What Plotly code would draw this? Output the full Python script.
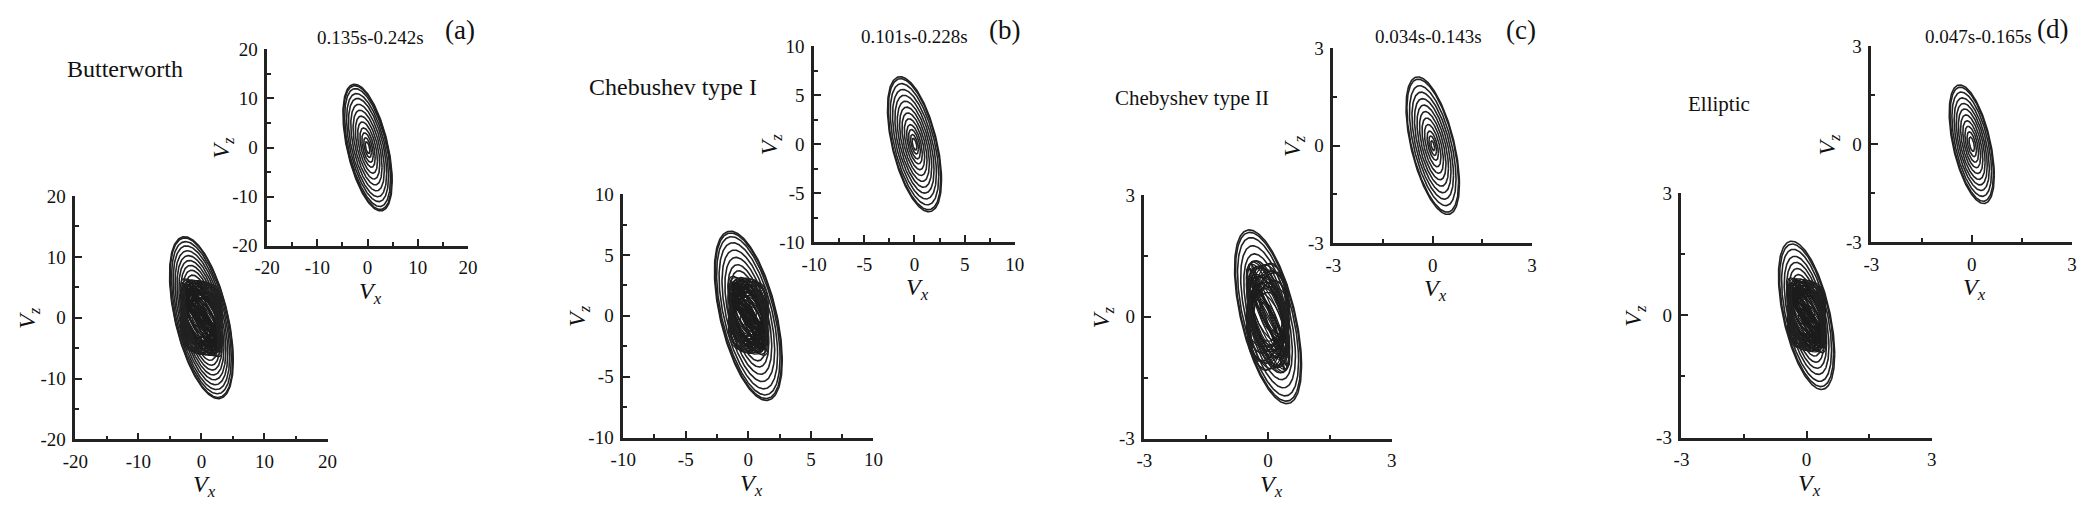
import numpy as np
import plotly.graph_objects as go

# ---------------- data ----------------
PANEL_LETTERS = ["(a)", "(b)", "(c)", "(d)"]
FILTER_NAMES = ["Butterworth", "Chebushev type I", "Chebyshev type II", "Elliptic"]
TIME_WINDOWS = ["0.135s-0.242s", "0.101s-0.228s", "0.034s-0.143s", "0.047s-0.165s"]

# axis ranges / ticks
TICKS_20 = [-20, -10, 0, 10, 20]
TICKTEXT_20 = ["-20", "-10", "0", "10", "20"]
MINOR_20 = [-15, -5, 5, 15]
TICKS_10 = [-10, -5, 0, 5, 10]
TICKTEXT_10 = ["-10", "-5", "0", "5", "10"]
MINOR_10 = [-7.5, -2.5, 2.5, 7.5]
TICKS_3 = [-3, 0, 3]
TICKTEXT_3 = ["-3", "0", "3"]
MINOR_3 = [-1.5, 1.5]

# orbit shape (Vx peak / Vz peak ratio and phase lag, degrees)
RING_RATIO = [0.38, 0.39, 0.38, 0.37]
RING_PHASE = [58, 58, 56, 58]

# main plots: outer orbit Vz peaks
A_MAIN_RINGS = [13.3, 13.1, 12.5, 11.8, 11.0, 10.2, 9.4, 8.6, 7.8, 7.0]
B_MAIN_RINGS = [6.95, 6.8, 6.5, 6.0, 5.4, 4.8, 4.2, 3.7]
C_MAIN_RINGS = [2.14, 2.08, 1.95, 1.75, 1.55, 1.38, 1.22]
D_MAIN_RINGS = [1.82, 1.75, 1.62, 1.45, 1.3, 1.15, 1.0]

# main plots: tangled inner loops (Vz peak, Vx peak, phase deg)
A_CL_Z = [6.4, 6.1, 5.8, 5.6, 5.4, 5.2, 5.0, 4.8, 4.6, 4.4, 4.2, 4.0, 6.2, 5.9, 5.5, 5.1, 4.7, 4.3, 3.9, 3.5,
          6.0, 5.7, 5.3, 4.9, 3.2, 2.8, 5.8, 5.0, 4.4, 3.6, 2.8, 2.0, 1.4, 6.0, 4.8, 3.0, 5.5, 4.1, 2.4, 1.8,
          6.3, 6.0, 5.7, 5.3, 4.9, 4.5, 4.1, 3.7, 3.3, 2.9, 6.1, 5.6, 5.2, 4.6, 4.0, 3.4, 2.6, 2.2, 1.6, 1.0]
A_CL_X = [3.3, 3.1, 3.2, 3.0, 3.3, 2.9, 3.1, 3.0, 2.8, 3.2, 2.7, 2.9, 3.4, 3.0, 3.1, 2.9, 3.2, 2.8, 2.6, 2.5,
          3.1, 2.9, 3.0, 2.8, 2.3, 2.1, 3.0, 2.6, 3.2, 2.2, 2.5, 1.6, 1.2, 2.0, 3.3, 2.8, 2.4, 3.1, 1.9, 2.6,
          3.2, 3.3, 2.9, 3.1, 3.0, 2.7, 3.2, 2.4, 2.9, 2.2, 2.8, 3.3, 2.6, 3.0, 2.5, 2.9, 2.0, 1.7, 1.4, 0.9]
A_CL_P = [35, 80, 55, 100, 45, 70, 115, 60, 90, 40, 110, 75, 65, 95, 50, 85, 30, 105, 70, 112,
          58, 88, 42, 108, 80, 60, 10, 18, 20, 5, 25, 30, 12, 5, 22, 15, 25, 8, 14, 12,
          48, 92, 68, 112, 38, 78, 102, 52, 98, 22, 72, 110, 28, 62, 28, 102, 16, 36, 100, 70]

B_CL_Z = [3.25, 3.1, 2.95, 2.8, 2.7, 2.6, 2.5, 2.4, 2.3, 2.2, 2.1, 2.0, 3.15, 3.0, 2.75, 2.55, 2.35, 2.15, 1.95, 1.75,
          3.05, 2.85, 2.65, 2.45, 1.6, 1.4, 2.9, 2.5, 2.2, 1.8, 1.4, 1.0, 0.7, 3.0, 2.4, 1.5, 2.75, 2.05, 1.2, 0.9,
          3.15, 3.0, 2.85, 2.65, 2.45, 2.25, 2.05, 1.85, 1.65, 1.45, 3.05, 2.8, 2.6, 2.3, 2.0, 1.7, 1.3, 1.1, 0.8, 0.5]
B_CL_X = [1.6, 1.5, 1.55, 1.45, 1.6, 1.4, 1.5, 1.45, 1.35, 1.55, 1.3, 1.4, 1.65, 1.45, 1.5, 1.4, 1.55, 1.35, 1.25, 1.2,
          1.5, 1.4, 1.45, 1.35, 1.1, 1.0, 1.45, 1.25, 1.55, 1.05, 1.2, 0.8, 0.6, 1.0, 1.6, 1.35, 1.15, 1.5, 0.9, 1.25,
          1.55, 1.6, 1.4, 1.5, 1.45, 1.3, 1.55, 1.15, 1.4, 1.05, 1.35, 1.6, 1.25, 1.45, 1.2, 1.4, 0.95, 0.8, 0.65, 0.45]
B_CL_P = [40, 85, 60, 105, 50, 75, 112, 65, 95, 45, 110, 80, 70, 100, 55, 90, 35, 108, 72, 104,
          62, 92, 48, 100, 78, 58, 10, 18, 20, 5, 25, 30, 12, 5, 22, 15, 25, 8, 14, 12,
          48, 92, 68, 112, 38, 78, 102, 52, 98, 22, 72, 110, 28, 62, 28, 102, 16, 36, 100, 70]

C_CL_Z = [1.35, 1.28, 1.2, 1.12, 1.05, 0.98, 0.9, 0.82, 0.75, 1.3, 1.15, 1.0, 0.85, 0.7, 1.25, 1.08, 0.95, 0.6,
          1.2, 1.0, 0.8, 0.55, 0.4, 1.3, 0.9, 0.65,
          1.38, 1.3, 1.22, 1.1, 0.98, 0.86, 0.74, 0.62, 1.32, 1.18, 1.02, 0.88, 0.5, 0.35]
C_CL_X = [0.52, 0.5, 0.48, 0.5, 0.45, 0.47, 0.42, 0.44, 0.4, 0.53, 0.49, 0.46, 0.43, 0.38, 0.51, 0.47, 0.44, 0.35,
          0.45, 0.5, 0.38, 0.3, 0.22, 0.4, 0.48, 0.33,
          0.5, 0.53, 0.46, 0.5, 0.48, 0.43, 0.5, 0.38, 0.44, 0.52, 0.4, 0.47, 0.3, 0.2]
C_CL_P = [45, 80, 60, 100, 50, 70, 110, 65, 90, 40, 95, 55, 85, 75, 62, 105, 48, 88,
          10, 18, 20, 5, 25, 8, 15, 25,
          48, 92, 68, 112, 38, 78, 102, 52, 98, 22, 72, 108, 28, 62]

D_CL_Z = [0.92, 0.88, 0.84, 0.8, 0.77, 0.74, 0.7, 0.67, 0.64, 0.6, 0.56, 0.52, 0.9, 0.85, 0.79, 0.73, 0.68, 0.62, 0.55, 0.48,
          0.86, 0.81, 0.75, 0.7, 0.82, 0.7, 0.6, 0.5, 0.4, 0.3, 0.2, 0.85, 0.65, 0.45, 0.78, 0.58,
          0.9, 0.86, 0.82, 0.76, 0.7, 0.65, 0.59, 0.53, 0.47, 0.42, 0.88, 0.8, 0.75, 0.66, 0.58, 0.49, 0.37, 0.32, 0.23, 0.15]
D_CL_X = [0.46, 0.44, 0.45, 0.43, 0.46, 0.42, 0.44, 0.43, 0.41, 0.45, 0.4, 0.42, 0.47, 0.43, 0.44, 0.42, 0.45, 0.4, 0.38, 0.36,
          0.44, 0.42, 0.43, 0.41, 0.42, 0.38, 0.45, 0.32, 0.36, 0.24, 0.17, 0.3, 0.46, 0.4, 0.35, 0.44,
          0.45, 0.46, 0.41, 0.44, 0.43, 0.39, 0.45, 0.34, 0.41, 0.31, 0.4, 0.46, 0.37, 0.43, 0.36, 0.41, 0.28, 0.24, 0.2, 0.13]
D_CL_P = [35, 80, 55, 100, 45, 70, 115, 60, 90, 40, 110, 75, 65, 95, 50, 85, 30, 105, 70, 112,
          58, 88, 42, 108, 10, 18, 20, 5, 25, 30, 12, 5, 22, 15, 25, 8,
          48, 92, 68, 112, 38, 78, 102, 52, 98, 22, 72, 110, 28, 62, 28, 102, 16, 36, 100, 70]

# insets: orbit Vz peaks of the windowed segment
A_INSET_RINGS = [12.9, 12.6, 12.0, 11.0, 10.0, 8.8, 7.6, 6.4, 5.2, 4.0, 3.0, 2.0, 1.2]
B_INSET_RINGS = [6.9, 6.7, 6.2, 5.6, 5.0, 4.4, 3.8, 3.2, 2.6, 2.0, 1.5, 1.0, 0.6]
C_INSET_RINGS = [2.12, 2.05, 1.85, 1.65, 1.45, 1.25, 1.05, 0.85, 0.65, 0.45, 0.3, 0.15]
D_INSET_RINGS = [1.82, 1.75, 1.6, 1.42, 1.25, 1.08, 0.9, 0.72, 0.55, 0.38, 0.22]

# ---------------- layout geometry (pixels) ----------------
W, H = 2093, 508
MAIN_BOX = [(63, 318, 194, 448), (617, 870, 192, 446), (1144, 1394, 193, 447), (1687, 1940, 191, 446)]
INSET_BOX = [(257, 460, 41, 246), (810, 1013, 38, 242), (1335, 1536, 40, 243), (1879, 2082, 38, 242)]
TITLE_POS = [(113, 62, 24), (667, 80, 24), (1192, 92, 21), (1725, 98, 21)]
TIME_POS = [(361, 29), (912, 28), (1431, 28), (1987, 28)]
LETTER_POS = [(452, 21), (1003, 21), (1525, 21), (2062, 20)]
VZ_SHIFT = [[-47, -45], [-44, -43], [-42, -40], [-46, -42]]

FONT = "Liberation Serif"


def ellipse(X, Z, phase_deg, n=220):
    t = np.linspace(0, 2 * np.pi, n)
    p = np.deg2rad(phase_deg)
    return list(X * np.cos(t)), list(-Z * np.cos(t - p))


def ring_set(z_list, ratio, phase):
    xs, ys = [], []
    for z in z_list:
        x, y = ellipse(ratio * z, z, phase)
        xs += x + [None]
        ys += y + [None]
    return xs, ys


def loop_set(z_list, x_list, p_list):
    xs, ys = [], []
    for z, xx, p in zip(z_list, x_list, p_list):
        x, y = ellipse(xx, z, p)
        xs += x + [None]
        ys += y + [None]
    return xs, ys


main_rings = [A_MAIN_RINGS, B_MAIN_RINGS, C_MAIN_RINGS, D_MAIN_RINGS]
clusters = [(A_CL_Z, A_CL_X, A_CL_P), (B_CL_Z, B_CL_X, B_CL_P),
            (C_CL_Z, C_CL_X, C_CL_P), (D_CL_Z, D_CL_X, D_CL_P)]
inset_rings = [A_INSET_RINGS, B_INSET_RINGS, C_INSET_RINGS, D_INSET_RINGS]
tick_sets = [(TICKS_20, TICKTEXT_20, MINOR_20), (TICKS_10, TICKTEXT_10, MINOR_10),
             (TICKS_3, TICKTEXT_3, MINOR_3), (TICKS_3, TICKTEXT_3, MINOR_3)]

fig = go.Figure()
layout = dict(
    width=W, height=H, margin=dict(l=0, r=0, t=0, b=0),
    paper_bgcolor="white", plot_bgcolor="rgba(0,0,0,0)",
    showlegend=False, annotations=[],
)


def axis(domain, ticks, anchor):
    vals, text, minor = ticks
    return dict(
        domain=domain, range=[vals[0], vals[-1]], anchor=anchor,
        tickmode="array", tickvals=vals, ticktext=text,
        showline=True, linecolor="#222", linewidth=2.5,
        ticks="inside", ticklen=7, tickwidth=2, tickcolor="#222",
        minor=dict(ticks="inside", ticklen=4, tickwidth=2, tickcolor="#222",
                   tickmode="array", tickvals=minor, showgrid=False),
        showgrid=False, zeroline=False, fixedrange=True,
        tickfont=dict(family=FONT, size=19, color="#111"),
        ticklabelstandoff=3,
    )


def note(text, x, y, size, **kw):
    d = dict(text=text, x=x, y=y, showarrow=False, xanchor="center", yanchor="middle",
             font=dict(family=FONT, size=size, color="#111"))
    d.update(kw)
    return d


idx = 0
for i in range(4):
    for k, kind in enumerate(("main", "inset")):
        idx += 1
        sfx = "" if idx == 1 else str(idx)
        x0, x1, y0, y1 = MAIN_BOX[i] if kind == "main" else INSET_BOX[i]
        xd = [x0 / W, x1 / W]
        yd = [1 - y1 / H, 1 - y0 / H]
        layout["xaxis" + sfx] = axis(xd, tick_sets[i], "y" + sfx)
        layout["yaxis" + sfx] = axis(yd, tick_sets[i], "x" + sfx)
        xr, yr = "x" + sfx, "y" + sfx

        if kind == "main":
            cz, cx, cp = clusters[i]
            xs, ys = loop_set(cz, cx, cp)
            fig.add_trace(go.Scatter(x=xs, y=ys, mode="lines", xaxis=xr, yaxis=yr,
                                     line=dict(color="#1c1c1c", width=1.25), hoverinfo="skip"))
            xs, ys = ring_set(main_rings[i], RING_RATIO[i], RING_PHASE[i])
        else:
            xs, ys = ring_set(inset_rings[i], RING_RATIO[i], RING_PHASE[i])
        fig.add_trace(go.Scatter(x=xs, y=ys, mode="lines", xaxis=xr, yaxis=yr,
                                 line=dict(color="#222", width=1.6), hoverinfo="skip"))

        # axis labels
        layout["annotations"].append(note("<i>V</i><sub><i>x</i></sub>", 0.5, 0, 24,
                                          xref=xr + " domain", yref=yr + " domain",
                                          yshift=-47, xshift=3))
        layout["annotations"].append(note("<i>V</i><sub><i>z</i></sub>", 0, 0.5, 24,
                                          xref=xr + " domain", yref=yr + " domain",
                                          xshift=VZ_SHIFT[i][k], textangle=-90))

    tx, ty, ts = TITLE_POS[i]
    layout["annotations"].append(note(FILTER_NAMES[i], tx / W, 1 - ty / H, ts, xref="paper", yref="paper"))
    mx, my = TIME_POS[i]
    layout["annotations"].append(note(TIME_WINDOWS[i], mx / W, 1 - my / H, 19, xref="paper", yref="paper"))
    lx, ly = LETTER_POS[i]
    layout["annotations"].append(note(PANEL_LETTERS[i], lx / W, 1 - ly / H, 27, xref="paper", yref="paper"))

fig.update_layout(**layout)
fig.write_html("out.html")
